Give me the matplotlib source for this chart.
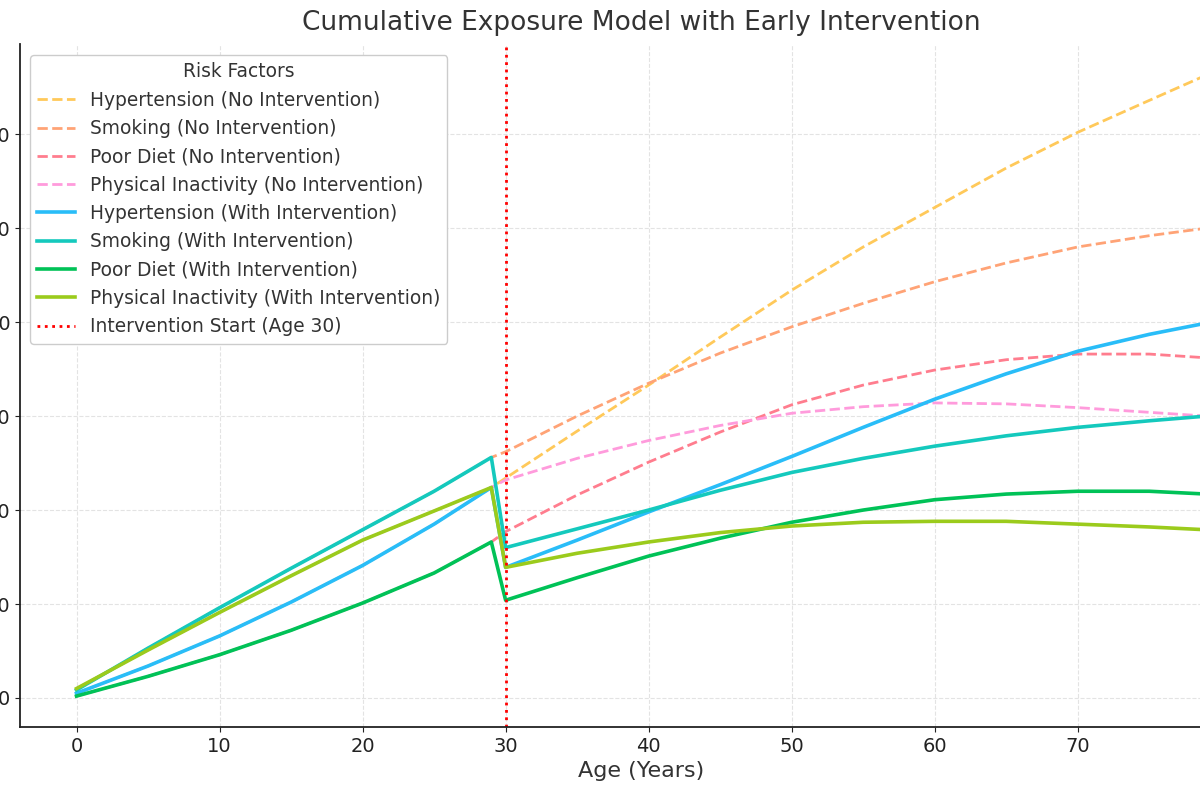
import numpy as np
import matplotlib.pyplot as plt

# ages sampled every 5 years, with the intervention at 30
ages_pre = [0, 5, 10, 15, 20, 25, 29]
ages_post = [30, 35, 40, 45, 50, 55, 60, 65, 70, 75, 79]

# shared exposure before the intervention
hyper_pre = [0.5, 3.4, 6.6, 10.2, 14.1, 18.5, 22.4]
smoking_pre = [0.85, 5.3, 9.6, 13.8, 17.9, 22.0, 25.6]
diet_pre = [0.2, 2.3, 4.6, 7.2, 10.1, 13.3, 16.6]
inactivity_pre = [1.0, 5.1, 9.1, 13.0, 16.8, 19.9, 22.4]

# no intervention, age 30 onward
hyper_no = [23.4, 28.4, 33.3, 38.4, 43.4, 48.0, 52.2, 56.4, 60.2, 63.6, 66.3]
smoking_no = [26.2, 30.0, 33.5, 36.7, 39.5, 42.0, 44.3, 46.3, 48.0, 49.2, 50.0]
diet_no = [17.7, 21.6, 25.1, 28.3, 31.2, 33.3, 34.9, 36.0, 36.6, 36.6, 36.2]
inactivity_no = [23.2, 25.5, 27.4, 29.0, 30.3, 31.0, 31.4, 31.3, 30.9, 30.4, 30.0]

# with intervention, age 30 onward
hyper_with = [13.9, 16.8, 19.8, 22.7, 25.7, 28.8, 31.8, 34.5, 36.9, 38.7, 39.9]
smoking_with = [16.0, 18.0, 20.0, 22.1, 24.0, 25.5, 26.8, 27.9, 28.8, 29.5, 30.0]
diet_with = [10.4, 12.8, 15.1, 17.0, 18.7, 20.0, 21.1, 21.7, 22.0, 22.0, 21.7]
inactivity_with = [13.9, 15.4, 16.6, 17.6, 18.3, 18.7, 18.8, 18.8, 18.5, 18.2, 17.9]

factors = ["Hypertension", "Smoking", "Poor Diet", "Physical Inactivity"]
intervention_age = 30

plt.rcParams["text.color"] = "#333333"
plt.rcParams["axes.labelcolor"] = "#333333"

fig = plt.figure(figsize=(12, 8), dpi=100)
ax = fig.add_axes([20 / 1200, 73 / 800, 1243 / 1200, 683 / 800])

ages = ages_pre + ages_post
pre = [hyper_pre, smoking_pre, diet_pre, inactivity_pre]
no_int = [hyper_no, smoking_no, diet_no, inactivity_no]
with_int = [hyper_with, smoking_with, diet_with, inactivity_with]

no_colors = ["#ffc95a", "#ffa376", "#ff7d8e", "#ff9bdc"]
with_colors = ["#29bdf8", "#14c9bd", "#00c257", "#9bcb1c"]

for name, p, n, c in zip(factors, pre, no_int, no_colors):
    ax.plot(ages, p + n, linestyle="--", color=c, lw=2,
            label=f"{name} (No Intervention)")
for name, p, w, c in zip(factors, pre, with_int, with_colors):
    ax.plot(ages, p + w, linestyle="-", color=c, lw=2.6,
            label=f"{name} (With Intervention)")

ax.axvline(intervention_age, color="red", linestyle=":", lw=2,
           label="Intervention Start (Age 30)")

ax.set_xlim(-3.95, 82.95)
ax.set_ylim(-3.09, 69.6)
ax.set_xticks(np.arange(0, 80, 10))
ax.set_yticks(np.arange(0, 70, 10))
ax.tick_params(labelsize=14, colors="#222222", labelcolor="#222222")
ax.grid(True, linestyle="--", color="#dddddd", alpha=0.8)
ax.spines["top"].set_visible(False)
ax.spines["right"].set_visible(False)
for s in ["left", "bottom"]:
    ax.spines[s].set_color("#222222")
    ax.spines[s].set_linewidth(1.3)

ax.set_xlabel("Age (Years)", fontsize=16)
ax.set_ylabel("Cumulative Exposure", fontsize=16)
ax.set_title("Cumulative Exposure Model with Early Intervention", fontsize=19, pad=10)

leg = ax.legend(title="Risk Factors", loc="upper left", fontsize=13.4,
                title_fontsize=13.4, bbox_to_anchor=(10 / 1243, 1 - 11 / 683),
                borderaxespad=0, framealpha=1, edgecolor="#cccccc")

fig.savefig("out.png", dpi=100)
